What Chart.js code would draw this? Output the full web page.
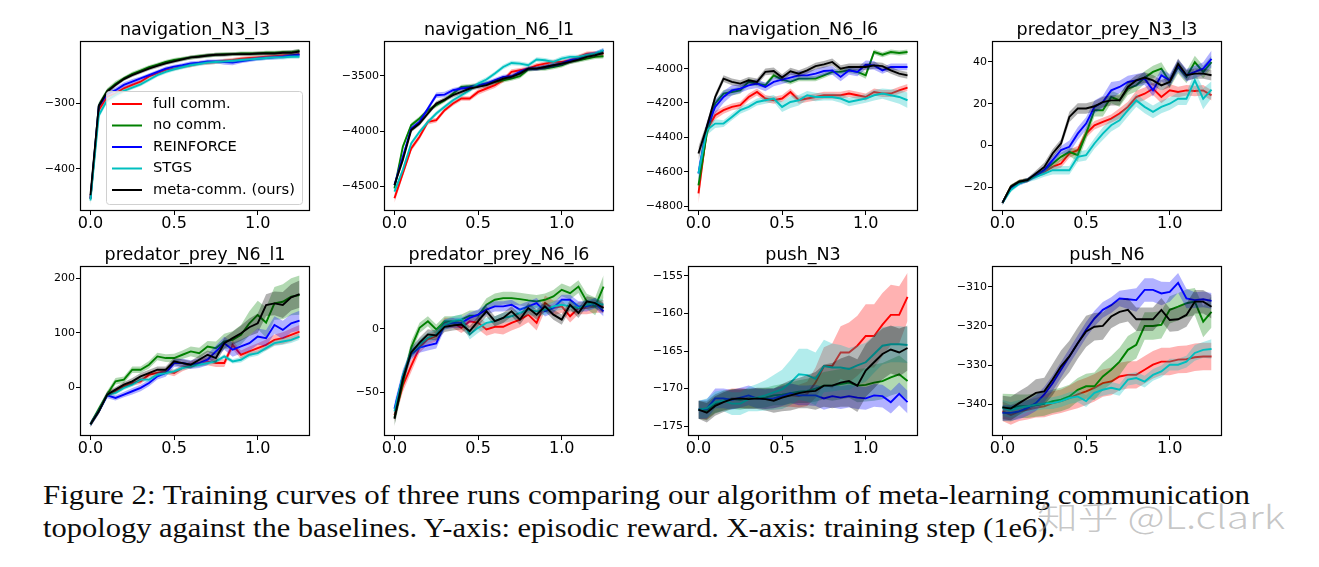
<!DOCTYPE html>
<html>
<head>
<meta charset="utf-8">
<script src="https://cdn.jsdelivr.net/npm/chart.js@4.4.1/dist/chart.umd.min.js"></script>
<style>
  body { margin: 0; background: #fff; width: 1319px; height: 567px; overflow: hidden; position: relative; }
  .panel { position: absolute; width: 300px; height: 230px; }
  .cap { position: absolute; left: 43px; font-family: "Liberation Serif", serif; font-size: 28px; line-height: 28px;
         white-space: nowrap; transform-origin: 0 0; color: #0c0c0c; }
  .mark { position: absolute; left: 1037px; top: 499px; font-family: "Noto Sans CJK SC", sans-serif; font-size: 32px;
          line-height: 32px; white-space: nowrap; transform-origin: 0 0; color: rgba(150,150,150,0.55); font-weight: 300; }
</style>
</head>
<body>
<div id="panels"></div>
<div class="cap" style="top:481px" data-w="1207">Figure 2: Training curves of three runs comparing our algorithm of meta-learning communication</div>
<div class="cap" style="top:514px" data-w="1012">topology against the baselines. Y-axis: episodic reward. X-axis: training step (1e6).</div>
<div class="mark" data-w="248">知乎 @L.clark</div>
<script>
// ── Data ──────────────────────────────────────────────────────────────────────
const STEPS = [0, 0.05, 0.1, 0.15, 0.2, 0.25, 0.3, 0.35, 0.4, 0.45, 0.5, 0.55, 0.6,
               0.65, 0.7, 0.75, 0.8, 0.85, 0.9, 0.95, 1.0, 1.05, 1.1, 1.15, 1.2, 1.25];
const X_TICKS = [0, 0.5, 1.0];
const SERIES_LABELS = ["full comm.", "no comm.", "REINFORCE", "STGS", "meta-comm. (ours)"];

// navigation_N3_l3
const navN3l3Full  = [-445, -310, -290, -285, -277, -272, -267, -259, -254, -249, -247, -244, -242, -239, -238, -237, -235, -234, -232, -231, -230, -229, -228, -227, -227, -225];
const navN3l3No    = [-446, -303, -281, -270, -262, -255, -250, -245, -241, -237, -234, -232, -230, -228, -227, -226, -225, -225, -224, -224, -224, -223, -223, -222, -222, -220];
const navN3l3Reinf = [-445, -304, -286, -280, -272, -267, -262, -257, -252, -247, -244, -242, -239, -238, -236, -236, -237, -238, -236, -234, -232, -231, -230, -229, -227, -226];
const navN3l3Stgs  = [-448, -318, -295, -287, -281, -276, -271, -264, -257, -252, -248, -245, -242, -240, -238, -237, -236, -235, -234, -233, -232, -231, -230, -230, -229, -229];
const navN3l3Meta  = [-440, -304, -282, -272, -263, -257, -252, -247, -243, -239, -236, -233, -230, -229, -227, -226, -226, -225, -225, -225, -224, -224, -224, -223, -223, -221];
const navN3l3FullSd  = [8, 5, 4, 4, 3, 3, 3, 3, 3, 3, 3, 3, 3, 3, 3, 3, 3, 3, 3, 3, 3, 3, 3, 3, 3, 3];
const navN3l3NoSd    = [8, 5, 4, 4, 3, 3, 3, 3, 3, 3, 3, 3, 3, 3, 3, 3, 3, 3, 3, 3, 3, 3, 3, 3, 3, 3];
const navN3l3ReinfSd = [6, 4, 4, 4, 4, 4, 3, 3, 3, 3, 3, 3, 3, 3, 3, 3, 4, 4, 3, 3, 3, 3, 3, 3, 3, 3];
const navN3l3StgsSd  = [8, 5, 4, 4, 3, 3, 3, 3, 3, 3, 3, 3, 3, 3, 3, 3, 3, 3, 3, 3, 3, 3, 3, 3, 3, 3];
const navN3l3MetaSd  = [6, 4, 4, 3, 3, 3, 3, 3, 3, 3, 3, 3, 3, 3, 3, 3, 3, 3, 3, 3, 3, 3, 3, 3, 4, 4];

// navigation_N6_l1
const navN6l1Full  = [-4608, -4382, -4157, -4051, -3916, -3901, -3810, -3750, -3705, -3705, -3645, -3614, -3584, -3539, -3464, -3449, -3434, -3404, -3389, -3373, -3373, -3358, -3328, -3298, -3295, -3298];
const navN6l1No    = [-4518, -4141, -3946, -3886, -3810, -3765, -3720, -3660, -3600, -3593, -3584, -3569, -3554, -3539, -3524, -3503, -3443, -3434, -3434, -3419, -3404, -3373, -3358, -3343, -3328, -3322];
const navN6l1Reinf = [-4488, -4232, -3976, -3916, -3795, -3675, -3669, -3630, -3614, -3605, -3584, -3569, -3539, -3509, -3503, -3464, -3434, -3434, -3419, -3404, -3389, -3358, -3343, -3313, -3298, -3268];
const navN6l1Stgs  = [-4548, -4352, -4111, -4006, -3916, -3840, -3780, -3720, -3675, -3630, -3569, -3533, -3479, -3419, -3383, -3389, -3404, -3352, -3358, -3373, -3343, -3328, -3328, -3313, -3298, -3268];
const navN6l1Meta  = [-4488, -4262, -3991, -3931, -3840, -3750, -3714, -3675, -3645, -3614, -3599, -3584, -3554, -3524, -3509, -3479, -3434, -3434, -3419, -3404, -3389, -3373, -3352, -3328, -3313, -3292];
const navN6l1FullSd  = [40, 30, 25, 25, 25, 20, 20, 20, 20, 20, 25, 25, 25, 20, 25, 20, 20, 20, 20, 20, 20, 20, 20, 20, 20, 20];
const navN6l1NoSd    = [30, 25, 20, 20, 20, 20, 20, 20, 20, 20, 20, 20, 20, 20, 20, 20, 20, 20, 20, 20, 20, 20, 20, 20, 20, 20];
const navN6l1ReinfSd = [30, 25, 20, 20, 20, 25, 25, 20, 20, 20, 20, 20, 20, 20, 20, 20, 20, 20, 20, 20, 20, 20, 20, 20, 20, 20];
const navN6l1StgsSd  = [30, 25, 20, 20, 20, 20, 20, 20, 20, 20, 20, 20, 20, 20, 20, 20, 20, 20, 20, 20, 20, 20, 20, 20, 20, 20];
const navN6l1MetaSd  = [30, 25, 20, 20, 20, 20, 20, 20, 20, 20, 20, 20, 20, 20, 20, 20, 20, 20, 20, 20, 20, 20, 20, 20, 20, 20];

// navigation_N6_l6
const navN6l6Full  = [-4726, -4358, -4271, -4242, -4223, -4213, -4165, -4136, -4174, -4184, -4174, -4136, -4184, -4174, -4165, -4155, -4155, -4155, -4145, -4155, -4165, -4136, -4145, -4145, -4126, -4110];
const navN6l6No    = [-4680, -4378, -4203, -4145, -4136, -4126, -4077, -4087, -4097, -4039, -4064, -4077, -4058, -4058, -4058, -4039, -4019, -4019, -4010, -4019, -4039, -3903, -3919, -3903, -3909, -3903];
const navN6l6Reinf = [-4610, -4339, -4223, -4165, -4126, -4116, -4097, -4087, -4107, -4077, -4064, -4052, -4039, -4039, -4029, -4014, -4010, -4048, -4010, -4019, -3977, -3981, -4010, -3990, -3990, -3990];
const navN6l6Stgs  = [-4610, -4358, -4320, -4320, -4281, -4242, -4223, -4194, -4184, -4174, -4223, -4194, -4184, -4155, -4165, -4165, -4165, -4174, -4194, -4184, -4174, -4155, -4145, -4155, -4165, -4184];
const navN6l6Meta  = [-4494, -4339, -4165, -4058, -4077, -4087, -4068, -4077, -4019, -4014, -4052, -4015, -4029, -4010, -3985, -3975, -3961, -4000, -3990, -3990, -3990, -3981, -3985, -4010, -4029, -4039];
const navN6l6FullSd  = [60, 30, 25, 20, 20, 20, 20, 20, 20, 20, 20, 20, 20, 20, 20, 20, 20, 20, 20, 20, 20, 20, 20, 20, 20, 20];
const navN6l6NoSd    = [50, 30, 20, 20, 20, 20, 20, 15, 15, 15, 15, 15, 15, 15, 15, 15, 15, 15, 15, 15, 20, 15, 15, 15, 15, 15];
const navN6l6ReinfSd = [50, 30, 40, 35, 30, 25, 25, 25, 25, 25, 25, 25, 25, 25, 25, 25, 25, 25, 25, 25, 25, 25, 20, 20, 20, 20];
const navN6l6StgsSd  = [40, 30, 25, 20, 20, 20, 20, 20, 20, 20, 30, 35, 30, 25, 25, 20, 20, 25, 25, 25, 25, 30, 30, 35, 40, 45];
const navN6l6MetaSd  = [40, 25, 20, 20, 20, 20, 20, 20, 20, 20, 20, 20, 20, 20, 20, 20, 20, 20, 20, 20, 20, 20, 20, 20, 20, 20];

// predator_prey_N3_l3
const ppN3l3Full  = [-27.4, -19.7, -17.3, -16.5, -14.2, -12.6, -10.2, -8.6, -3.8, -2.2, 5.7, 9.7, 11.3, 12.9, 15.3, 18.5, 23.2, 24.8, 27.2, 23.2, 26.4, 25.6, 26.4, 26.1, 26.4, 24.0];
const ppN3l3No    = [-27.4, -19.7, -17.3, -16.5, -14.2, -11.8, -8.6, -5.4, -3.0, -4.6, 5.7, 16.9, 16.9, 23.2, 21.6, 27.2, 28.8, 32.5, 35.2, 36.8, 30.4, 37.5, 32.8, 39.9, 35.2, 39.9];
const ppN3l3Reinf = [-27.4, -20.5, -18.1, -16.5, -14.2, -11.8, -7.0, -2.2, -0.6, 5.7, 10.5, 18.5, 20.8, 26.4, 28.0, 30.4, 31.2, 32.0, 26.4, 33.6, 31.2, 38.3, 33.6, 35.2, 36.8, 41.5];
const ppN3l3Stgs  = [-27.4, -21.3, -18.1, -16.5, -15.0, -13.4, -11.8, -11.8, -11.8, -5.4, -4.6, 1.0, 5.7, 9.7, 12.1, 16.9, 21.6, 18.5, 16.1, 18.5, 20.0, 22.4, 22.4, 31.2, 22.4, 26.7];
const ppN3l3Meta  = [-27.4, -19.7, -17.3, -16.5, -13.4, -10.2, -3.8, 1.0, 13.7, 17.7, 17.7, 18.8, 20.8, 21.6, 21.6, 28.0, 31.2, 32.5, 31.2, 28.8, 30.4, 39.1, 33.6, 34.4, 34.4, 33.6];
const ppN3l3FullSd  = [1, 1, 1, 1, 1, 1.5, 1.5, 2, 2, 2, 2, 2, 2, 2, 2.5, 2.5, 3, 3, 3, 3, 3, 2.5, 2.5, 2.5, 2.5, 2.5];
const ppN3l3NoSd    = [1, 1, 1, 1, 1, 1.5, 2, 2, 2, 3, 3, 3, 3, 3, 3, 3, 3, 3, 3, 3, 3, 3, 3, 3, 3, 3];
const ppN3l3ReinfSd = [1, 1, 1, 1, 1.5, 1.5, 2, 2, 3, 3, 3, 3, 3, 4, 3, 3, 3, 3, 3, 3, 3, 3, 3, 3, 3, 4];
const ppN3l3StgsSd  = [1, 1, 1, 1, 1.5, 1.5, 2, 2, 2, 2.5, 2.5, 2.5, 3, 3, 3, 3, 3, 3, 3, 3, 3, 3, 3, 4, 5, 4];
const ppN3l3MetaSd  = [1, 1, 1, 1, 1.5, 2, 2, 2, 2.5, 2.5, 2.5, 2.5, 2.5, 2.5, 2.5, 2.5, 2.5, 2.5, 2.5, 2.5, 2.5, 2.5, 2.5, 2.5, 2.5, 2.5];

// predator_prey_N6_l1
const ppN6l1Full  = [-68, -44, -13, -7.3, 1.8, 7.9, 11, 23.2, 26.2, 29.3, 26.2, 35.4, 41.5, 44.5, 47.6, 44.5, 44.5, 78, 59.8, 65.9, 72, 78, 87.2, 90.3, 96.3, 102.4];
const ppN6l1No    = [-68, -40, -13, 11, 14, 32.3, 32.3, 41.5, 56.7, 53.7, 53.7, 59.8, 65.9, 62.8, 75, 72, 84.2, 87.2, 96.3, 117.7, 133, 119, 154.3, 157.3, 166.5, 169.5];
const ppN6l1Reinf = [-68, -44, -15, -19.5, -13.4, -7.3, -1.2, 7.9, 20.1, 26.2, 44.5, 44.5, 41.5, 44.5, 50.6, 65.9, 81.1, 69, 75, 81.1, 93.3, 90.3, 114.6, 105.5, 117.7, 122.6];
const ppN6l1Stgs  = [-68, -44, -13.4, -10.4, -1.2, 4.9, 14, 14, 23.2, 26.2, 29.3, 35.4, 38.4, 41.5, 44.5, 47.6, 56.7, 47.6, 50.6, 59.8, 62.8, 72, 81.1, 84.2, 87.2, 93.3];
const ppN6l1Meta  = [-68, -44, -13.4, -4.3, 4.9, 11, 20.1, 26.2, 32.3, 32.3, 47.6, 44.5, 41.5, 50.6, 59.8, 53.7, 81.1, 90.3, 99.4, 110.4, 117.7, 151.2, 154.3, 151.2, 165.3, 171.4];
const ppN6l1FullSd  = [5, 5, 5, 5, 5, 5, 5, 5, 5, 5, 6, 6, 6, 6, 7, 7, 7, 8, 8, 9, 9, 10, 10, 11, 12, 12];
const ppN6l1NoSd    = [5, 5, 6, 6, 6, 6, 6, 7, 7, 7, 8, 8, 9, 10, 10, 12, 14, 16, 18, 22, 26, 28, 30, 32, 34, 36];
const ppN6l1ReinfSd = [5, 5, 5, 5, 5, 6, 6, 6, 6, 7, 7, 8, 8, 9, 10, 11, 12, 13, 13, 14, 15, 15, 16, 17, 17, 18];
const ppN6l1StgsSd  = [4, 4, 4, 4, 4, 4, 4, 4, 4, 4, 4, 4, 4, 4, 4, 4, 4, 4, 5, 5, 5, 5, 5, 6, 6, 6];
const ppN6l1MetaSd  = [5, 5, 5, 5, 5, 6, 6, 6, 6, 6, 7, 7, 7, 8, 8, 9, 10, 12, 14, 16, 18, 20, 22, 24, 24, 25];

// predator_prey_N6_l6
const ppN6l6Full  = [-68, -44.8, -29.2, -14.8, -8.3, -5.7, 4.7, 4.7, 0.8, 6, 4.7, -0.5, 1.6, 1.6, 4.7, 7.3, 11.2, 4.7, 20.3, 16.4, 17.7, 9.9, 16.4, 16.4, 17.7, 17.7];
const ppN6l6No    = [-70, -42, -14.8, 0.8, 6, -0.5, 6, 6, 7.3, 10.4, 10.4, 19, 22.9, 24.2, 24.2, 23.4, 22.4, 21.6, 22.9, 25.5, 30.7, 28.1, 33.3, 21.6, 17.7, 33.3];
const ppN6l6Reinf = [-63, -37, -20, -14.8, -13, -11.5, 3.4, 4.7, 4.7, 8.6, 11.2, 15.1, 17.7, 17.7, 19, 15.1, 17.7, 20.3, 13.8, 16.4, 22.9, 22.9, 17.7, 17.7, 20.3, 13.8];
const ppN6l6Stgs  = [-65, -37, -18.7, -12.2, -7, -4.4, 3.4, 6, 7.3, -4.4, 0.8, 4.7, 6, 8.6, 9.9, 12.5, 15.1, 13.8, 15.1, 17.7, 19, 17.7, 16.4, 19, 20.3, 19];
const ppN6l6Meta  = [-70.8, -39.6, -18.7, -10.9, -4.4, -5.2, 1.6, 2.6, 3.4, -1.8, 6, 13.8, 6, 8.6, 13.8, 7.3, 16.4, 11.2, 17.7, 11.2, 7.3, 19, 12.5, 21.6, 20.3, 16.4];
const ppN6l6FullSd  = [5, 5, 5, 4, 4, 4, 4, 4, 4, 5, 5, 5, 5, 6, 6, 6, 6, 6, 6, 6, 5, 5, 5, 5, 5, 5];
const ppN6l6NoSd    = [6, 5, 5, 4, 4, 4, 4, 4, 4, 4, 4, 5, 5, 5, 5, 5, 5, 5, 5, 5, 5, 5, 5, 6, 7, 9];
const ppN6l6ReinfSd = [5, 5, 4, 4, 4, 4, 4, 4, 4, 4, 4, 4, 4, 4, 4, 4, 4, 4, 4, 4, 4, 4, 4, 4, 4, 4];
const ppN6l6StgsSd  = [4, 4, 4, 4, 4, 4, 4, 4, 4, 4, 4, 4, 4, 4, 4, 4, 4, 4, 4, 4, 4, 4, 4, 4, 4, 4];
const ppN6l6MetaSd  = [6, 5, 4, 4, 4, 4, 4, 4, 4, 4, 4, 4, 4, 4, 4, 4, 4, 4, 4, 4, 4, 4, 4, 4, 4, 4];

// push_N3
const pushN3Full  = [-172.8, -172.9, -172.0, -171.6, -171.3, -171.3, -171.3, -171.3, -171.4, -171.3, -171.0, -170.9, -171.0, -170.7, -169.2, -167.0, -167.0, -165.2, -165.2, -164.3, -163.0, -163.0, -161.5, -160.2, -160.2, -157.8];
const pushN3No    = [-172.8, -172.9, -172.0, -171.6, -171.4, -171.5, -171.3, -171.3, -171.2, -170.9, -170.8, -170.6, -170.4, -170.3, -170.0, -169.6, -169.6, -169.4, -169.2, -169.6, -169.5, -169.2, -169.0, -168.5, -168.1, -169.0];
const pushN3Reinf = [-172.8, -172.7, -171.3, -171.3, -171.5, -171.2, -170.9, -171.3, -171.4, -171.3, -171.0, -170.6, -170.9, -170.9, -170.9, -171.3, -171.0, -171.2, -171.0, -171.2, -171.3, -170.9, -171.0, -171.8, -170.7, -171.8];
const pushN3Stgs  = [-172.8, -172.6, -171.8, -171.6, -172.0, -172.0, -171.4, -171.2, -170.9, -170.5, -170.1, -169.2, -168.1, -168.2, -168.7, -167.0, -167.2, -167.2, -167.4, -166.9, -166.5, -165.4, -164.3, -164.1, -164.1, -164.2];
const pushN3Meta  = [-172.8, -173.2, -172.3, -171.8, -171.4, -171.3, -171.4, -171.3, -171.4, -171.6, -171.2, -170.9, -170.6, -170.4, -170.3, -169.6, -169.6, -169.2, -169.0, -169.6, -167.6, -166.5, -165.4, -164.8, -165.2, -164.6];
const pushN3FullSd  = [1.2, 1.2, 1.2, 1.3, 1.3, 1.3, 1.3, 1.3, 1.3, 1.3, 1.4, 1.5, 1.5, 1.6, 2, 2.5, 3, 3.5, 4, 4, 4.2, 4.2, 4.2, 4, 3.8, 3.2];
const pushN3NoSd    = [1.2, 1.3, 1.3, 1.3, 1.3, 1.3, 1.3, 1.3, 1.3, 1.3, 1.4, 1.4, 1.5, 1.6, 1.7, 1.8, 2, 2, 2, 2.2, 2.2, 2.4, 2.4, 2.4, 2.5, 2.5];
const pushN3ReinfSd = [1.2, 1.3, 1.3, 1.3, 1.3, 1.3, 1.3, 1.3, 1.3, 1.3, 1.3, 1.3, 1.3, 1.3, 1.4, 1.5, 1.5, 1.5, 1.5, 1.5, 1.5, 1.5, 1.5, 1.5, 1.5, 1.5];
const pushN3StgsSd  = [1.2, 1.3, 1.4, 1.4, 1.5, 1.5, 1.6, 1.8, 2, 2.3, 2.6, 3, 3.4, 3.5, 3.5, 3.5, 3.2, 3, 2.8, 2.6, 2.6, 2.5, 2.5, 2.4, 2.4, 2.4];
const pushN3MetaSd  = [1.2, 1.3, 1.3, 1.3, 1.3, 1.3, 1.3, 1.4, 1.5, 1.6, 1.8, 2, 2, 2.2, 2.5, 2.8, 3, 3.2, 3.4, 3.5, 3.5, 3.5, 3.4, 3.2, 3.2, 3.0];

// push_N6
const pushN6Full  = [-341.8, -342.7, -341.8, -341.4, -340.9, -340.5, -339.7, -339.2, -338.4, -337.5, -336.7, -335.8, -334.6, -334.2, -332.9, -332.5, -332.5, -331.2, -329.9, -329.1, -329.1, -328.6, -328.5, -328.0, -327.8, -327.8];
const pushN6No    = [-340.8, -340.9, -340.5, -340.5, -340.2, -339.9, -339.2, -338.8, -338.0, -336.3, -335.4, -335.4, -332.9, -331.2, -329.1, -326.1, -324.8, -320.0, -320.0, -319.7, -315.9, -315.1, -314.2, -313.8, -318.9, -316.4];
const pushN6Reinf = [-342.2, -342.2, -341.8, -340.9, -339.7, -337.5, -334.6, -331.2, -327.8, -324.4, -321.0, -318.1, -315.9, -314.7, -313.0, -313.2, -313.4, -310.8, -310.8, -311.7, -311.3, -309.0, -313.0, -313.4, -313.2, -313.6];
const pushN6Stgs  = [-340.9, -341.5, -340.9, -340.5, -340.1, -339.8, -339.7, -339.2, -338.4, -338.0, -339.2, -337.1, -336.3, -335.8, -336.3, -333.7, -333.3, -334.2, -332.5, -331.6, -329.9, -329.9, -329.1, -326.9, -326.1, -325.9];
const pushN6Meta  = [-340.8, -341.1, -339.7, -338.4, -337.1, -336.7, -333.7, -330.3, -327.8, -324.4, -321.4, -320.2, -320.0, -317.6, -316.4, -315.9, -318.3, -318.3, -318.3, -315.9, -318.5, -318.3, -317.2, -313.8, -313.8, -315.1];
const pushN6FullSd  = [2.5, 2.5, 2.5, 2.5, 2.5, 2.8, 3, 3, 3.2, 3.5, 3.5, 3.5, 3.5, 3.5, 3.5, 3.5, 3.5, 3.5, 3.5, 3.5, 3.5, 3.5, 3.5, 3.5, 3.5, 3.5];
const pushN6NoSd    = [3.5, 3.5, 3, 3, 3, 3, 3, 3, 3, 3, 3.2, 3.5, 3.5, 3.5, 3.5, 3.5, 3.5, 3.5, 3.5, 3.5, 3.5, 3.5, 3.5, 3.5, 4, 4];
const pushN6ReinfSd = [2, 2, 2, 2, 2, 2, 2, 2, 2, 2, 2, 2, 2, 2, 2, 2.5, 3, 3, 3, 3, 2.5, 2.5, 2.5, 2, 2, 2];
const pushN6StgsSd  = [2, 2, 2, 1.5, 1.5, 1.5, 1.5, 1.5, 1.5, 1.5, 1.5, 1.5, 1.5, 1.5, 1.5, 1.5, 1.5, 1.5, 1.5, 1.5, 1.5, 1.5, 1.5, 2, 2, 2.5];
const pushN6MetaSd  = [3, 3, 3, 3, 3.5, 3.5, 4, 4, 4, 4, 4, 3.5, 3.5, 3, 3, 3, 3, 3, 3, 3, 3, 3, 3, 3, 3, 3];

// ── Panels ────────────────────────────────────────────────────────────────────
const FONT   = "DejaVu Sans";
const COLORS = ["#ff0000", "#008000", "#0000ff", "#00bfbf", "#000000"];
const BANDS  = ["rgba(255,0,0,0.3)", "rgba(0,128,0,0.3)", "rgba(0,0,255,0.3)", "rgba(0,191,191,0.3)", "rgba(0,0,0,0.3)"];
const COLS   = [80, 384, 688, 992];
const ROWS   = [41, 266];

const PANELS = [
  { title: "navigation_N3_l3", min: -464, max: -205, ticks: [-400, -300],
    mean: [navN3l3Full, navN3l3No, navN3l3Reinf, navN3l3Stgs, navN3l3Meta],
    sd:   [navN3l3FullSd, navN3l3NoSd, navN3l3ReinfSd, navN3l3StgsSd, navN3l3MetaSd] },
  { title: "navigation_N6_l1", min: -4723, max: -3184, ticks: [-4500, -4000, -3500],
    mean: [navN6l1Full, navN6l1No, navN6l1Reinf, navN6l1Stgs, navN6l1Meta],
    sd:   [navN6l1FullSd, navN6l1NoSd, navN6l1ReinfSd, navN6l1StgsSd, navN6l1MetaSd] },
  { title: "navigation_N6_l6", min: -4829, max: -3839, ticks: [-4800, -4600, -4400, -4200, -4000],
    mean: [navN6l6Full, navN6l6No, navN6l6Reinf, navN6l6Stgs, navN6l6Meta],
    sd:   [navN6l6FullSd, navN6l6NoSd, navN6l6ReinfSd, navN6l6StgsSd, navN6l6MetaSd] },
  { title: "predator_prey_N3_l3", min: -31.3, max: 50, ticks: [-20, 0, 20, 40],
    mean: [ppN3l3Full, ppN3l3No, ppN3l3Reinf, ppN3l3Stgs, ppN3l3Meta],
    sd:   [ppN3l3FullSd, ppN3l3NoSd, ppN3l3ReinfSd, ppN3l3StgsSd, ppN3l3MetaSd] },
  { title: "predator_prey_N6_l1", min: -89.6, max: 223, ticks: [0, 100, 200],
    mean: [ppN6l1Full, ppN6l1No, ppN6l1Reinf, ppN6l1Stgs, ppN6l1Meta],
    sd:   [ppN6l1FullSd, ppN6l1NoSd, ppN6l1ReinfSd, ppN6l1StgsSd, ppN6l1MetaSd] },
  { title: "predator_prey_N6_l6", min: -84.4, max: 49.5, ticks: [-50, 0],
    mean: [ppN6l6Full, ppN6l6No, ppN6l6Reinf, ppN6l6Stgs, ppN6l6Meta],
    sd:   [ppN6l6FullSd, ppN6l6NoSd, ppN6l6ReinfSd, ppN6l6StgsSd, ppN6l6MetaSd] },
  { title: "push_N3", min: -176.3, max: -153.7, ticks: [-175, -170, -165, -160, -155],
    mean: [pushN3Full, pushN3No, pushN3Reinf, pushN3Stgs, pushN3Meta],
    sd:   [pushN3FullSd, pushN3NoSd, pushN3ReinfSd, pushN3StgsSd, pushN3MetaSd] },
  { title: "push_N6", min: -348.1, max: -304.7, ticks: [-340, -330, -320, -310],
    mean: [pushN6Full, pushN6No, pushN6Reinf, pushN6Stgs, pushN6Meta],
    sd:   [pushN6FullSd, pushN6NoSd, pushN6ReinfSd, pushN6StgsSd, pushN6MetaSd] },
];

// ── Plugins ───────────────────────────────────────────────────────────────────
// Full black box round the axes, like matplotlib spines
const frame = {
  id: "frame",
  afterDraw(chart) {
    const { ctx, chartArea: a } = chart;
    ctx.save();
    ctx.strokeStyle = "#000";
    ctx.lineWidth = 1.2;
    ctx.strokeRect(Math.round(a.left) + 0.5, Math.round(a.top) + 0.5,
                   Math.round(a.width) - 1, Math.round(a.height) - 1);
    ctx.restore();
  },
};

// Legend drawn inside the plot, lower right, only on the first panel
const legendBox = {
  id: "legendBox",
  afterDatasetsDraw(chart, _args, opts) {
    if (!opts.show) return;
    const { ctx, chartArea: a } = chart;
    const w = 196, h = 113, x = a.right - 8 - w, y = a.bottom - 7 - h, r = 3;
    ctx.save();
    ctx.beginPath();
    ctx.roundRect(x + 0.5, y + 0.5, w, h, r);
    ctx.fillStyle = "rgba(255,255,255,0.8)";
    ctx.fill();
    ctx.strokeStyle = "#d0d0d0";
    ctx.lineWidth = 1;
    ctx.stroke();
    ctx.font = `14.7px "${FONT}"`;
    ctx.textBaseline = "middle";
    SERIES_LABELS.forEach((label, i) => {
      const cy = y + 13 + i * 21.5;
      ctx.strokeStyle = COLORS[i];
      ctx.lineWidth = 2;
      ctx.beginPath();
      ctx.moveTo(x + 6, cy);
      ctx.lineTo(x + 36, cy);
      ctx.stroke();
      ctx.fillStyle = "#000";
      ctx.fillText(label, x + 47, cy);
    });
    ctx.restore();
  },
};

// ── Build ─────────────────────────────────────────────────────────────────────
const fmtY = v => (v < 0 ? "\u2212" : "") + Math.abs(v);
const pts  = arr => STEPS.map((x, i) => ({ x, y: arr[i] }));

function buildDatasets(p) {
  const out = [];
  p.mean.forEach((mean, si) => {
    const sd = p.sd[si];
    const base = 100 - si * 3;
    out.push({ data: pts(mean.map((v, i) => v + sd[i])), borderColor: "rgba(0,0,0,0)",
               pointRadius: 0, fill: false, order: base });
    out.push({ data: pts(mean.map((v, i) => v - sd[i])), borderColor: "rgba(0,0,0,0)",
               backgroundColor: BANDS[si], pointRadius: 0, fill: "-1", order: base - 1 });
    out.push({ data: pts(mean), borderColor: COLORS[si], borderWidth: 1.9,
               pointRadius: 0, fill: false, order: base - 2 });
  });
  return out;
}

const holder = document.getElementById("panels");
PANELS.forEach((p, idx) => {
  const L = COLS[idx % 4], T = ROWS[Math.floor(idx / 4)];
  const div = document.createElement("div");
  div.className = "panel";
  div.style.left = (L - 60) + "px";
  div.style.top  = (T - 30) + "px";
  const canvas = document.createElement("canvas");
  canvas.width = 300; canvas.height = 230;
  div.appendChild(canvas);
  holder.appendChild(div);

  new Chart(canvas.getContext("2d"), {
    type: "line",
    data: { datasets: buildDatasets(p) },
    plugins: [legendBox, frame],
    options: {
      responsive: false,
      animation: false,
      devicePixelRatio: 1,
      layout: { padding: { left: 0, right: 10, top: 0, bottom: 0 } },
      elements: { line: { tension: 0 } },
      plugins: {
        legend:  { display: false },
        tooltip: { enabled: false },
        legendBox: { show: idx === 0 },
        // fullSize off so the title centres over the plot, not the canvas
        title: {
          display: true, fullSize: false, text: p.title, color: "#000",
          font: { family: FONT, size: 17.5, weight: "normal", lineHeight: "20px" },
          padding: { top: 9, bottom: 1 },
        },
      },
      scales: {
        x: {
          type: "linear", min: -0.0625, max: 1.3125,
          afterFit: s => { s.height = 30; },
          afterBuildTicks: s => { s.ticks = X_TICKS.map(v => ({ value: v })); },
          ticks: { callback: v => v.toFixed(1), color: "#000", autoSkip: false, maxRotation: 0,
                   font: { family: FONT, size: 16 }, padding: -1 },
          grid:   { drawOnChartArea: false, tickLength: 4, color: "#000", lineWidth: 1 },
          border: { display: false },
        },
        y: {
          min: p.min, max: p.max,
          afterFit: s => { s.width = 60; },
          afterBuildTicks: s => { s.ticks = p.ticks.map(v => ({ value: v })); },
          ticks: { callback: fmtY, color: "#000", autoSkip: false,
                   font: { family: FONT, size: 11 }, padding: 1 },
          grid:   { drawOnChartArea: false, tickLength: 4, color: "#000", lineWidth: 1 },
          border: { display: false },
        },
      },
    },
  });
});

// ── Caption fit ───────────────────────────────────────────────────────────────
document.querySelectorAll("[data-w]").forEach(el => {
  const w = el.getBoundingClientRect().width;
  el.style.transform = `scaleX(${(+el.dataset.w / w).toFixed(4)})`;
});
</script>
</body>
</html>
